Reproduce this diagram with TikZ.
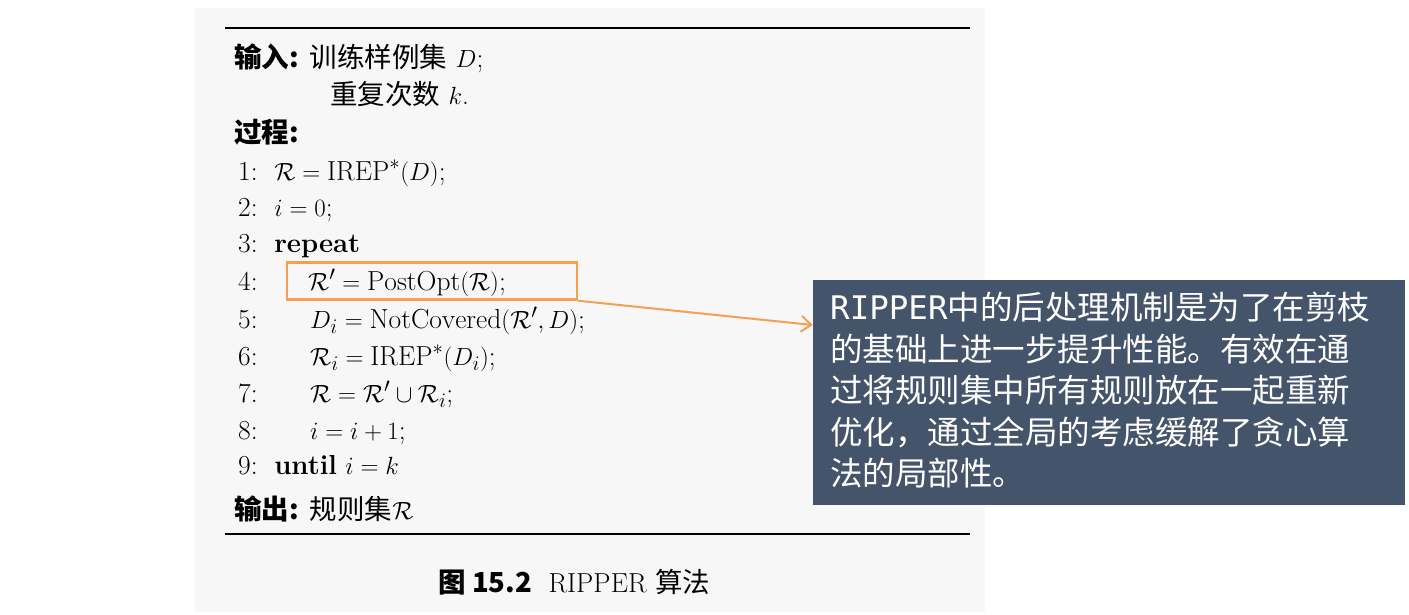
\documentclass[tikz,border=0pt]{standalone}
\usepackage{fontspec}
\newfontfamily\cjk{Noto Sans CJK SC}
\newfontfamily\monof{DejaVu Sans Mono}
\usetikzlibrary{arrows.meta}
\definecolor{boxc}{HTML}{44546A}
\definecolor{orng}{HTML}{F4A050}
\begin{document}
\begin{tikzpicture}[x=1pt,y=-1pt,
  ln/.style={anchor=base west,inner sep=0pt,font=\fontsize{27.5}{30}\selectfont}]
\useasboundingbox (0,0) rectangle (1409,614);
\fill[white] (0,0) rectangle (1409,614);
\fill[black!3] (195,8) rectangle (985,612);
\draw[line width=2.5pt] (225,28) -- (970,28);
\draw[line width=2.5pt] (225,534) -- (970,534);
\node[ln] (in) at (234,67) {{\cjk\bfseries 输入:} {\cjk 训练样例集} $D$;};
\node[ln] (in2) at (330,104) {{\cjk 重复次数} $k$.};
\node[ln] (pr) at (234,142) {\cjk\bfseries 过程:};
\node[ln] (l1) at (238,180) {1:\ \ $\mathcal{R}=\mathrm{IREP}^*(D)$;};
\node[ln] (l2) at (238,216) {2:\ \ $i=0$;};
\node[ln] (l3) at (238,252) {3:\ \ \textbf{repeat}};
\node[ln] (l4n) at (238,290) {4:};
\node[ln] (l4) at (308,290) {$\mathcal{R}'=\mathrm{PostOpt}(\mathcal{R})$;};
\node[ln] (l5n) at (238,328) {5:};
\node[ln] (l5) at (310,328) {$D_i=\mathrm{NotCovered}(\mathcal{R}',D)$;};
\node[ln] (l6n) at (238,365) {6:};
\node[ln] (l6) at (310,365) {$\mathcal{R}_i=\mathrm{IREP}^*(D_i)$;};
\node[ln] (l7n) at (238,402) {7:};
\node[ln] (l7) at (310,402) {$\mathcal{R}=\mathcal{R}'\cup\mathcal{R}_i$;};
\node[ln] (l8n) at (238,439) {8:};
\node[ln] (l8) at (310,439) {$i=i+1$;};
\node[ln] (l9) at (238,474) {9:\ \ \textbf{until} $i=k$};
\node[ln] (out) at (234,519) {{\cjk\bfseries 输出:} {\cjk 规则集}$\mathcal{R}$};
\node[ln] (cap) at (438,592) {{\cjk\bfseries 图 15.2}\ \ RIPPER {\cjk 算法}};
\node[draw=orng,line width=2.5pt,minimum width=290pt,minimum height=37pt,inner sep=0pt] (hl) at (432,281) {};
\node[fill=boxc,minimum width=592pt,minimum height=225pt,inner sep=0pt] (cb) at (1109,392.5) {};
\node[anchor=north west,inner sep=0pt,text=white,align=left,font=\fontsize{32.5}{41.5}\selectfont\cjk] (ct) at (830,292)
 {{\monof RIPPER}中的后处理机制是为了在剪枝\\的基础上进一步提升性能。有效在通\\过将规则集中所有规则放在一起重新\\优化，通过全局的考虑缓解了贪心算\\法的局部性。};
\draw[orng,line width=2pt,-{Straight Barb[length=10pt,width=16pt]}] (hl.south east) -- (cb.west |- 0,325);
\end{tikzpicture}
\end{document}
